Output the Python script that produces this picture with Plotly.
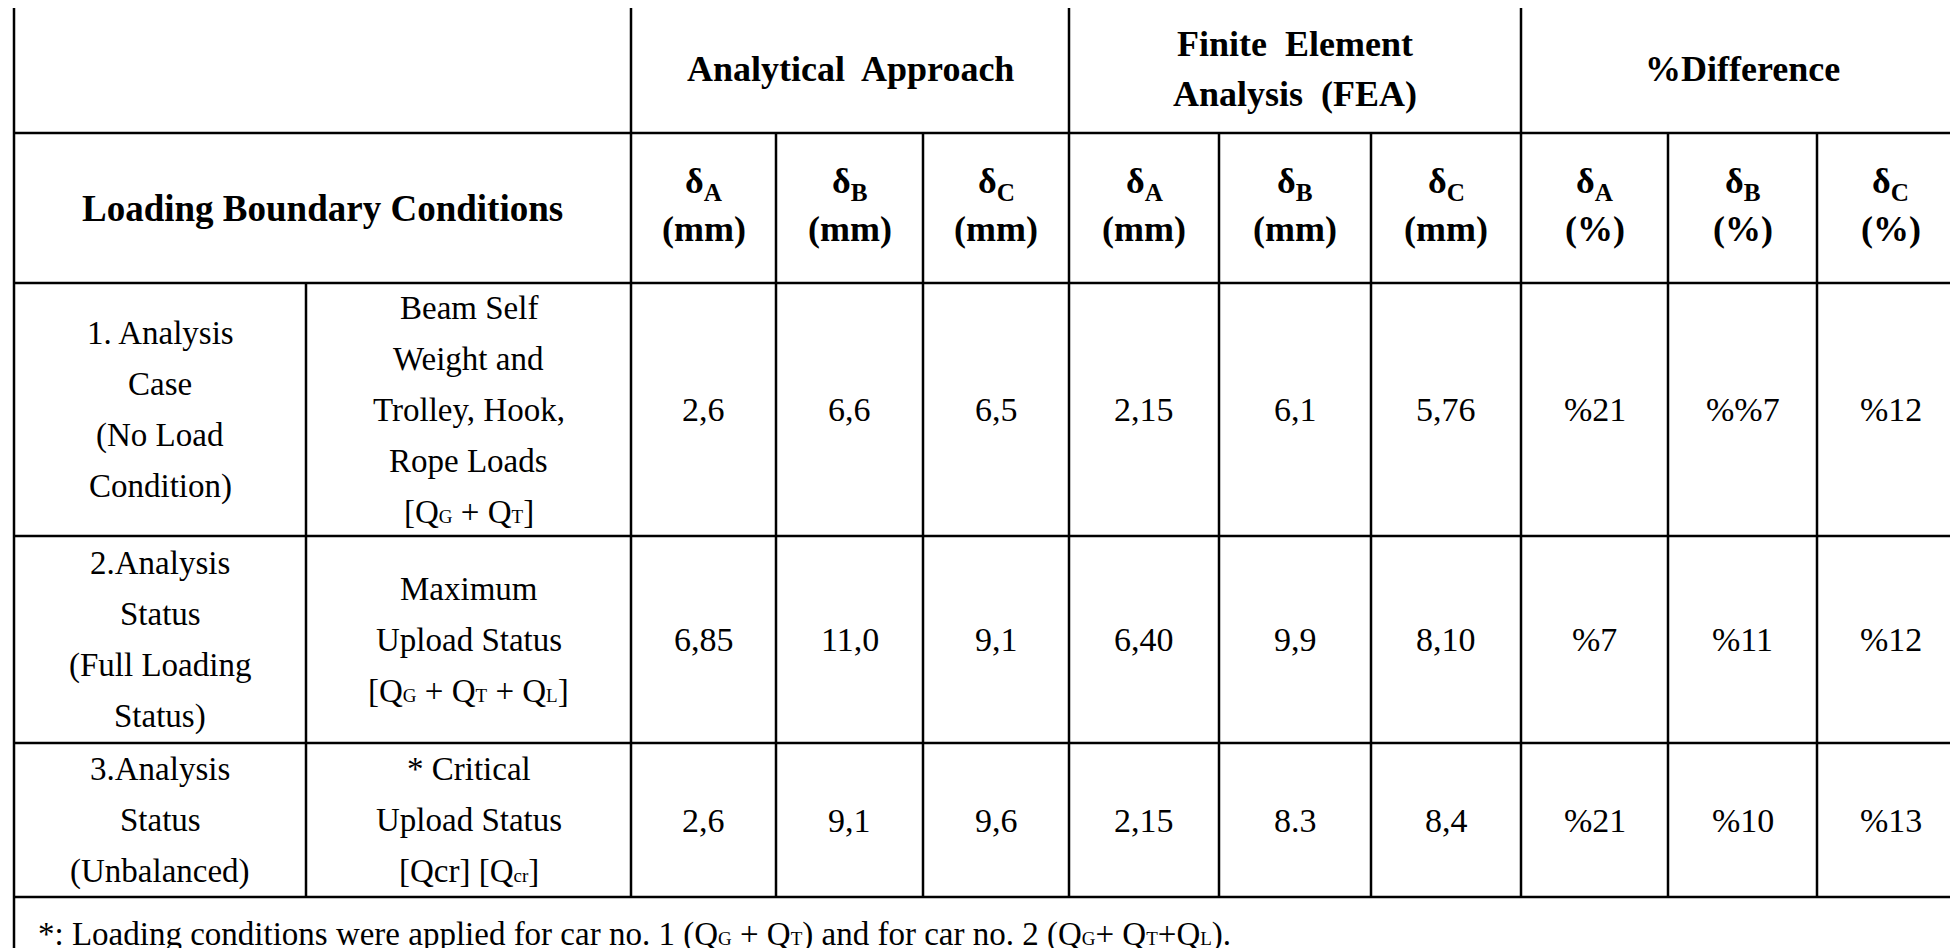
import plotly.graph_objects as go

group_headers = [["Analytical  Approach"], ["Finite  Element", "Analysis  (FEA)"], ["%Difference"]]
sub_symbols = ["A", "B", "C", "A", "B", "C", "A", "B", "C"]
sub_units = ["(mm)", "(mm)", "(mm)", "(mm)", "(mm)", "(mm)", "(%)", "(%)", "(%)"]
s = lambda t: "<span style='font-size:19px'>" + t + "</span>"
case_labels = [["1. Analysis", "Case", "(No Load", "Condition)"],
               ["2.Analysis", "Status", "(Full Loading", "Status)"],
               ["3.Analysis", "Status", "(Unbalanced)"]]
load_labels = [["Beam Self", "Weight and", "Trolley, Hook,", "Rope Loads", "[Q" + s("G") + " + Q" + s("T") + "]"],
               ["Maximum", "Upload Status", "[Q" + s("G") + " + Q" + s("T") + " + Q" + s("L") + "]"],
               ["* Critical", "Upload Status", "[Qcr] [Q" + s("cr") + "]"]]
row1 = ["2,6", "6,6", "6,5", "2,15", "6,1", "5,76", "%21", "%%7", "%12"]
row2 = ["6,85", "11,0", "9,1", "6,40", "9,9", "8,10", "%7", "%11", "%12"]
row3 = ["2,6", "9,1", "9,6", "2,15", "8.3", "8,4", "%21", "%10", "%13"]
values = [row1, row2, row3]
footnote = ("*: Loading conditions were applied for car no. 1 (Q" + s("G") + " + Q" + s("T") +
            ") and for car no. 2 (Q" + s("G") + "+ Q" + s("T") + "+Q" + s("L") + ").")

xs = [6, 298, 623, 768, 915, 1061, 1211, 1363, 1513, 1660, 1809, 1956]
ys = [0, 125, 275, 528, 735, 889, 948]

FONT = "Liberation Serif"
fig = go.Figure()
fig.add_trace(go.Scatter(x=[0, 1958], y=[0, 948], mode="markers", marker=dict(opacity=0), hoverinfo="skip"))
shapes = []
def line(x0, y0, x1, y1):
    shapes.append(dict(type="line", x0=x0, y0=y0, x1=x1, y1=y1, xref="x", yref="y",
                       line=dict(color="black", width=2.5)))
line(xs[0], ys[1], xs[-1], ys[1])
line(xs[0], ys[2], xs[-1], ys[2])
line(xs[1], ys[3], xs[-1], ys[3]); line(xs[0], ys[3], xs[1], ys[3])
line(xs[0], ys[4], xs[-1], ys[4])
line(xs[0], ys[5], xs[-1], ys[5])
line(xs[0], 0, xs[0], ys[6])
line(xs[-1], 0, xs[-1], ys[6])
line(xs[1], ys[2], xs[1], ys[5])
for i in [2, 5, 8]:
    line(xs[i], 0, xs[i], ys[5])
for i in [3, 4, 6, 7, 9, 10]:
    line(xs[i], ys[1], xs[i], ys[5])

ann = []
def txt(x, y, t, size=33, bold=False, xanchor="center"):
    ann.append(dict(x=x, y=y, xref="x", yref="y", text=("<b>" + t + "</b>") if bold else t,
                    showarrow=False, xanchor=xanchor, yanchor="middle",
                    font=dict(family=FONT, size=size, color="black")))

def block(xc, yc, lines, lh, size=33, bold=False):
    n = len(lines)
    for k, t in enumerate(lines):
        txt(xc, yc + (k - (n - 1) / 2) * lh, t, size=size, bold=bold)

for g, lines in enumerate(group_headers):
    x0, x1 = xs[2 + 3 * g], xs[5 + 3 * g]
    block((x0 + x1) / 2, (ys[0] + ys[1]) / 2 - 2, lines, 50, size=36, bold=True)
txt((xs[0] + xs[2]) / 2, (ys[1] + ys[2]) / 2, "Loading Boundary Conditions", size=37, bold=True)
for j in range(9):
    block((xs[2 + j] + xs[3 + j]) / 2, (ys[1] + ys[2]) / 2 - 2,
          ["δ<sub>" + sub_symbols[j] + "</sub>", sub_units[j]], 46, size=36, bold=True)

LH = 51
for r in range(3):
    yc = (ys[2 + r] + ys[3 + r]) / 2
    block((xs[0] + xs[1]) / 2, yc, case_labels[r], LH)
    block((xs[1] + xs[2]) / 2, yc, load_labels[r], LH)
    for j, v in enumerate(values[r]):
        txt((xs[2 + j] + xs[3 + j]) / 2, yc, v, size=34)
txt(28, 926, footnote, xanchor="left")

fig.update_layout(width=1958, height=948, margin=dict(l=0, r=0, t=0, b=0),
                  plot_bgcolor="white", paper_bgcolor="white", showlegend=False,
                  shapes=shapes, annotations=ann,
                  xaxis=dict(range=[0, 1958], visible=False, fixedrange=True),
                  yaxis=dict(range=[948, 0], visible=False, fixedrange=True))
fig.write_html("out.html", config={"displayModeBar": False})
